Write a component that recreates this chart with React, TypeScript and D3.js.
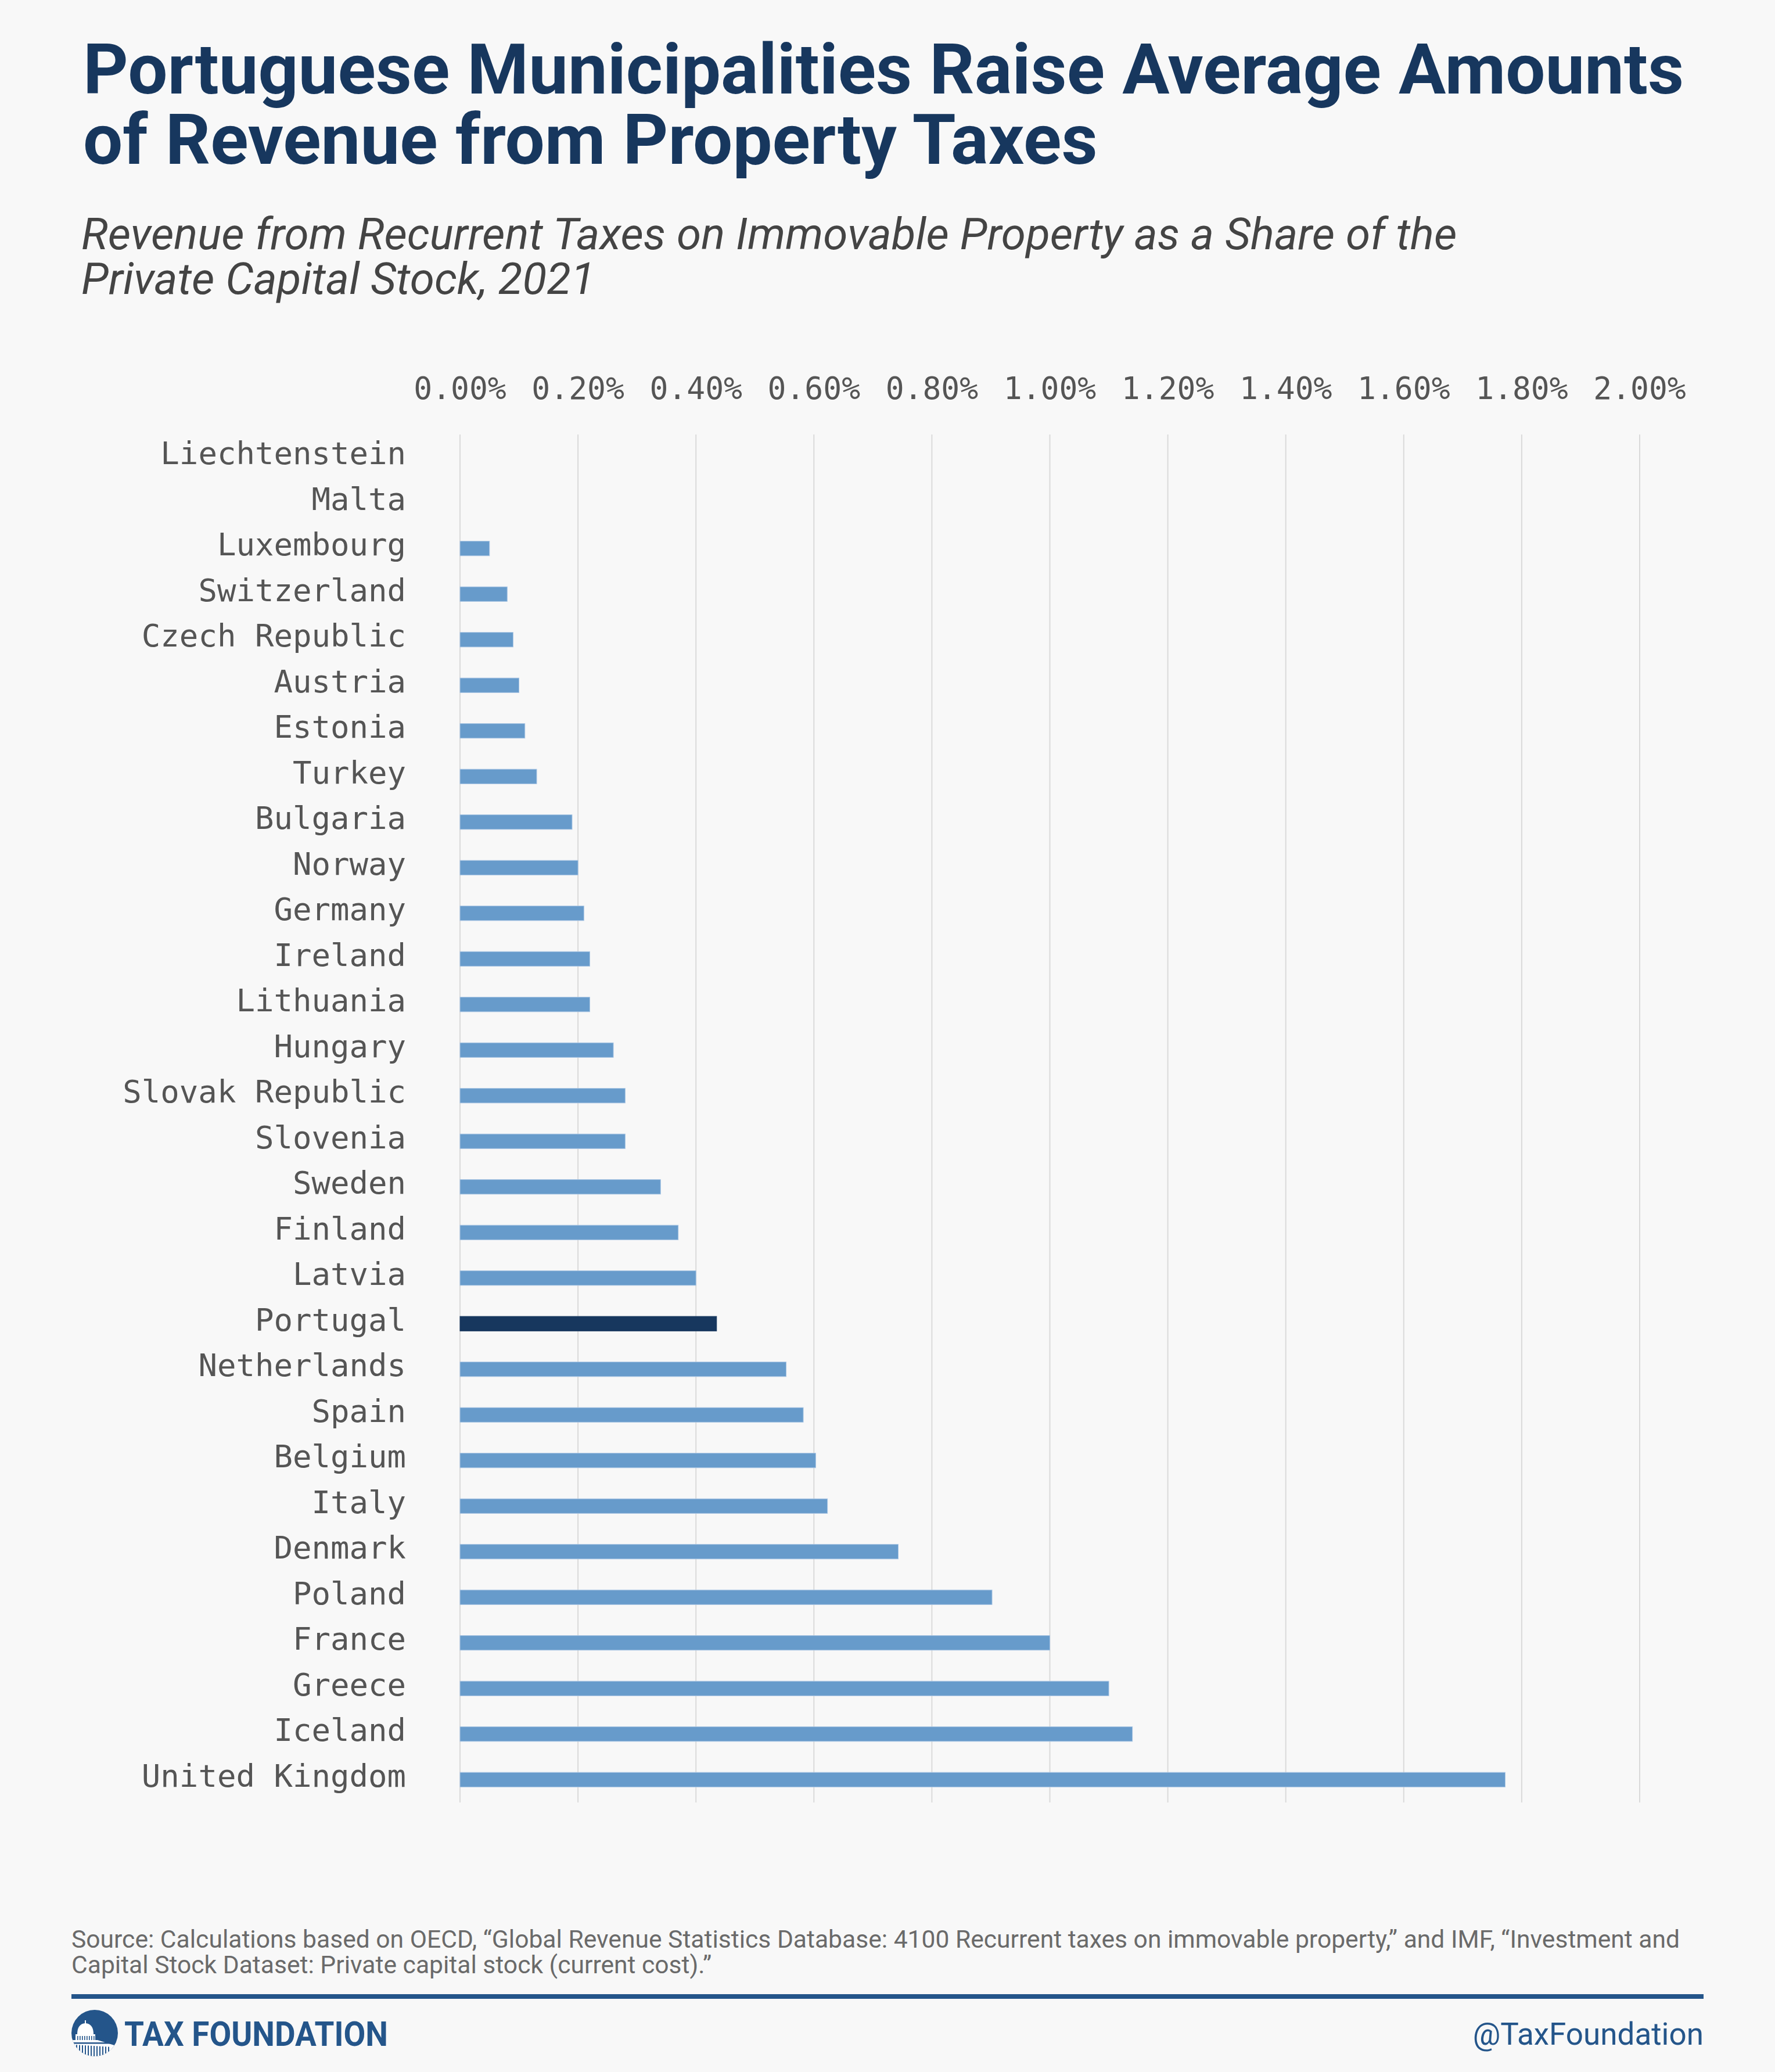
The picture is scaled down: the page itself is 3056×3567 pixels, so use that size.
import React from "react";
import * as d3 from "d3";

const countries = [
  "Liechtenstein", "Malta", "Luxembourg", "Switzerland", "Czech Republic", "Austria",
  "Estonia", "Turkey", "Bulgaria", "Norway", "Germany", "Ireland", "Lithuania",
  "Hungary", "Slovak Republic", "Slovenia", "Sweden", "Finland", "Latvia", "Portugal",
  "Netherlands", "Spain", "Belgium", "Italy", "Denmark", "Poland", "France", "Greece",
  "Iceland", "United Kingdom",
];
// percent of private capital stock
const values = [
  0, 0, 0.05, 0.08, 0.09, 0.1, 0.11, 0.13, 0.19, 0.2, 0.21, 0.22, 0.22, 0.26, 0.28,
  0.28, 0.34, 0.37, 0.4, 0.435, 0.553, 0.582, 0.603, 0.623, 0.743, 0.902, 1.0, 1.1,
  1.14, 1.772,
];
const tickValues = [0, 0.2, 0.4, 0.6, 0.8, 1.0, 1.2, 1.4, 1.6, 1.8, 2.0];
const highlight = "Portugal";

const titleLines = [
  "Portuguese Municipalities Raise Average Amounts",
  "of Revenue from Property Taxes",
];
const subtitleLines = [
  "Revenue from Recurrent Taxes on Immovable Property as a Share of the",
  "Private Capital Stock, 2021",
];
const sourceLines = [
  "Source: Calculations based on OECD, \u201cGlobal Revenue Statistics Database: 4100 Recurrent taxes on immovable property,\u201d and IMF, \u201cInvestment and",
  "Capital Stock Dataset: Private capital stock (current cost).\u201d",
];

const W = 3056;
const H = 3567;
const MONO = "'DejaVu Sans Mono', 'Liberation Mono', monospace";
const SANS = "Roboto, 'Noto Sans', sans-serif";

export default function App() {
  const x = d3.scaleLinear().domain([0, 2.0]).range([792, 2823]);
  const y = d3
    .scaleBand<string>()
    .domain(countries)
    .range([748, 3103])
    .paddingInner(0.68)
    .paddingOuter(0.34);
  const fmt = (v: number) => d3.format(".2f")(v) + "%";
  const [y0, y1] = y.range();

  return (
    <svg
      width={W}
      height={H}
      viewBox={`0 0 ${W} ${H}`}
      style={{ position: "absolute", left: 0, top: 0, display: "block" }}
    >
      <rect x={0} y={0} width={W} height={H} fill="#f8f8f8" />

      {titleLines.map((t, i) => (
        <text key={t} x={143} y={161 + i * 121} fontFamily={SANS} fontWeight={700}
          fontSize={121} fill="#17375e">{t}</text>
      ))}
      {subtitleLines.map((t, i) => (
        <text key={t} x={140} y={429 + i * 77} fontFamily={SANS} fontStyle="italic"
          fontSize={76.5} fill="#444444">{t}</text>
      ))}

      {/* gridlines */}
      {tickValues.map((v) => (
        <line key={v} x1={x(v)} x2={x(v)} y1={y0} y2={y1} stroke="#dadada" strokeWidth={2} />
      ))}
      {/* tick labels */}
      {tickValues.map((v) => (
        <text key={v} x={x(v)} y={687} textAnchor="middle" fontFamily={MONO}
          fontSize={53} fill="#555555">{fmt(v)}</text>
      ))}

      {/* bars */}
      {countries.map((c, i) => (
        <rect key={c} x={x(0)} y={y(c)!} width={Math.max(0, x(values[i]) - x(0))}
          height={y.bandwidth()}
          fill={c === highlight ? "#17375e" : "#679bcb"}
          stroke={values[i] > 0 ? (c === highlight ? "#17375e" : "#a9c6e4") : "none"}
          strokeWidth={1} />
      ))}
      {/* category labels */}
      {countries.map((c) => (
        <text key={c} x={699} y={y(c)! + y.bandwidth() / 2 + 12} textAnchor="end"
          fontFamily={MONO} fontSize={54} fill="#555555">{c}</text>
      ))}

      {/* source */}
      {sourceLines.map((t, i) => (
        <text key={i} x={123} y={3353 + i * 44} fontFamily={SANS} fontSize={42.6}
          fill="#6a6a6a">{t}</text>
      ))}

      <rect x={123} y={3433} width={2810} height={8} fill="#24558a" />

      {/* logo */}
      <defs>
        <clipPath id="logoClip">
          <circle cx={163} cy={3500} r={40} />
        </clipPath>
      </defs>
      <circle cx={163} cy={3500} r={40} fill="#24558a" />
      <g clipPath="url(#logoClip)">
        <path d="M146,3484 L146,3478 L148,3478 L148,3484 Z" fill="#ffffff" />
        <path d="M133,3502 Q133,3484 147,3483 Q161,3484 161,3502 Z" fill="#ffffff" />
        <rect x={130} y={3502} width={34} height={11} fill="#ffffff" />
        <path d="M118,3512 L168,3512 L200,3522 L200,3560 L118,3560 Z" fill="#ffffff" />
        {[133, 137, 141, 145, 149, 153, 157, 161].map((cx) => (
          <rect key={cx} x={cx} y={3505} width={1.6} height={7} fill="#24558a" />
        ))}
        {[126, 131, 136, 141, 146, 151, 156, 161, 166, 171, 176, 181, 186].map((cx, i) => (
          <rect key={cx} x={cx} y={3520 + i * 0.3} width={2} height={20} fill="#24558a" />
        ))}
        <rect x={118} y={3516} width={90} height={2.5} fill="#24558a" />
      </g>
      <text x={214} y={3522} fontFamily={SANS} fontWeight={700} fontSize={59}
        textLength={454} lengthAdjust="spacingAndGlyphs" fill="#24558a">TAX FOUNDATION</text>

      <text x={2933} y={3520} textAnchor="end" fontFamily={SANS} fontSize={53}
        fill="#24558a">@TaxFoundation</text>
    </svg>
  );
}
